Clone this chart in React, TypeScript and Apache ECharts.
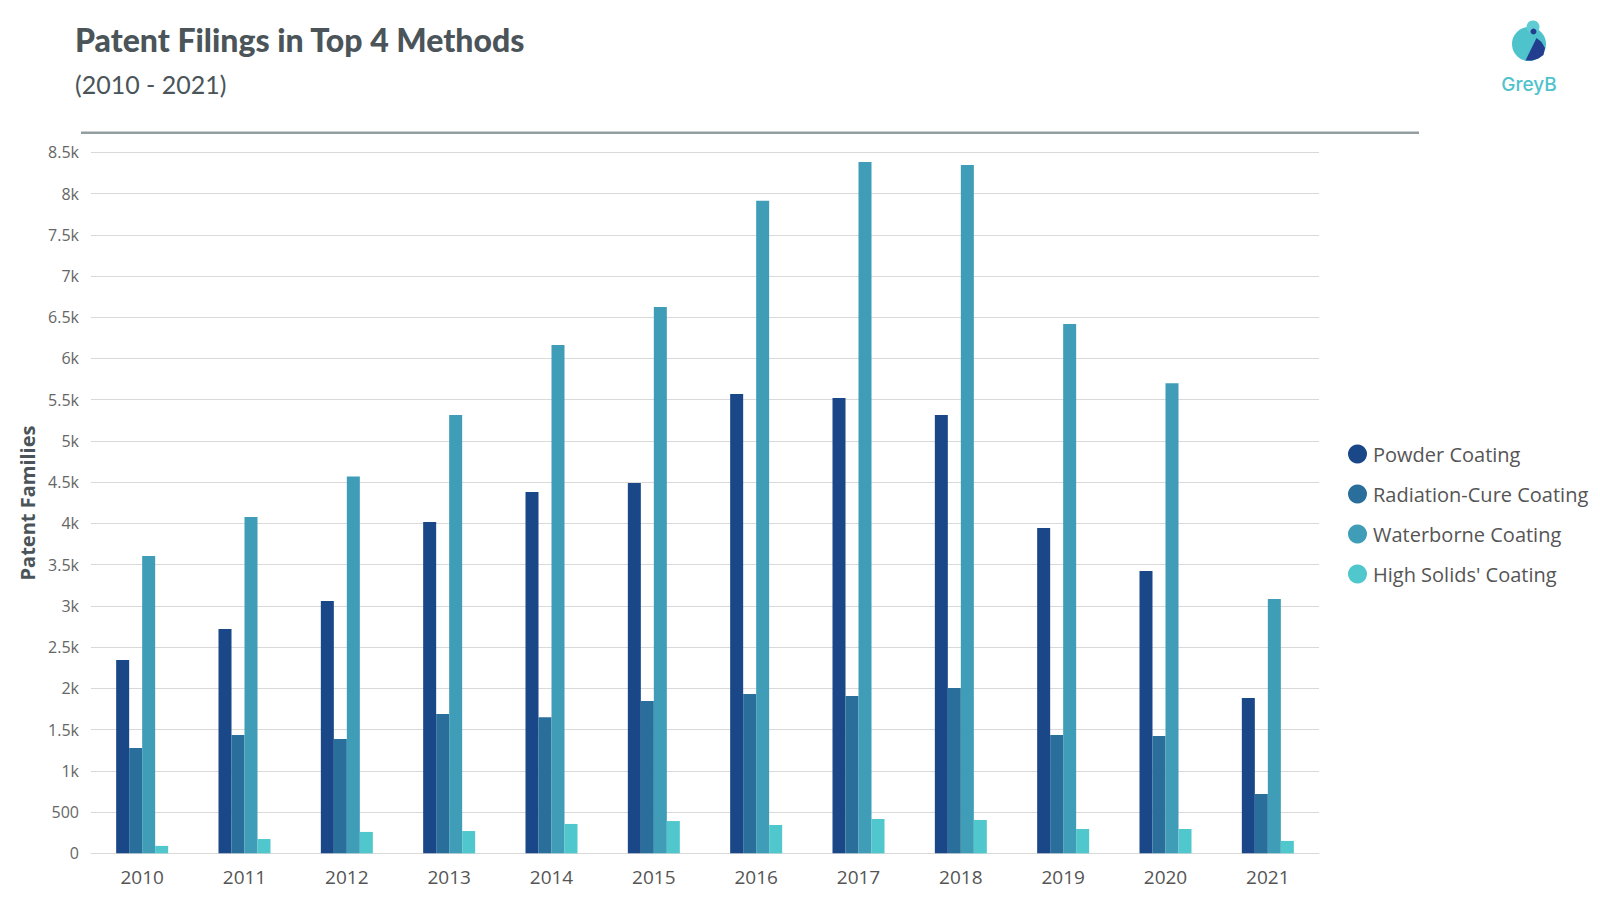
import React, { useEffect, useRef } from "react";
import * as echarts from "echarts";

const years = ["2010", "2011", "2012", "2013", "2014", "2015", "2016", "2017", "2018", "2019", "2020", "2021"];
const seriesNames = ["Powder Coating", "Radiation-Cure Coating", "Waterborne Coating", "High Solids' Coating"];
const powder = [2344, 2720, 3059, 4016, 4380, 4491, 5569, 5521, 5315, 3945, 3423, 1883];
const radiation = [1277, 1434, 1386, 1689, 1651, 1847, 1932, 1908, 2004, 1434, 1422, 719];
const waterborne = [3605, 4078, 4569, 5315, 6164, 6623, 7912, 8383, 8347, 6419, 5700, 3084];
const highSolids = [90, 173, 259, 270, 356, 391, 343, 416, 404, 295, 295, 150];
const colors = ["#194787", "#2a6f9b", "#3f9db8", "#4fc7cc"];

const TITLE = "Patent Filings in Top 4 Methods";
const SUBTITLE = "(2010 - 2021)";
const Y_NAME = "Patent Families";

export default function App() {
  const ref = useRef<HTMLDivElement>(null);
  useEffect(() => {
    document.body.style.margin = "0";
    const chart = echarts.init(ref.current!, null, { renderer: "svg" });
    const data = [powder, radiation, waterborne, highSolids];
    chart.setOption({
      animation: false,
      backgroundColor: "#ffffff",
      grid: { left: 91, right: 281, top: 152.3, bottom: 46.7, containLabel: false },
      legend: {
        orient: "vertical",
        left: 1343,
        top: 439,
        icon: "circle",
        itemWidth: 19,
        itemHeight: 19,
        itemGap: 20,
        textStyle: { fontFamily: "Open Sans", fontSize: 20, color: "#555555", padding: [0, 0, 0, 1] },
        data: seriesNames,
      },
      xAxis: {
        type: "category",
        data: years,
        axisLine: { show: true, lineStyle: { color: "#d9d9d9", width: 1 } },
        axisTick: { show: false },
        axisLabel: { fontFamily: "Open Sans", fontSize: 19, color: "#555555", margin: 14 },
      },
      yAxis: {
        type: "value",
        min: 0,
        max: 8500,
        interval: 500,
        axisLine: { show: false },
        axisTick: { show: false },
        splitLine: { lineStyle: { color: "#d9d9d9", width: 1 } },
        axisLabel: {
          fontFamily: "Open Sans",
          fontSize: 16,
          color: "#666666",
          margin: 12,
          formatter: (v: number) => (v >= 1000 ? v / 1000 + "k" : String(v)),
        },
      },
      series: seriesNames.map((name, i) => ({
        name,
        type: "bar",
        data: data[i],
        barWidth: 13,
        barGap: "0%",
        itemStyle: { color: colors[i] },
      })),
      graphic: [
        {
          type: "text",
          left: 75,
          top: 23,
          style: { text: TITLE, fontFamily: "Lato", fontWeight: 900, fontSize: 32, fill: "#4a5459" },
        },
        {
          type: "text",
          left: 75,
          top: 71,
          style: { text: SUBTITLE, fontFamily: "Lato", fontSize: 25, fill: "#4a5459" },
        },
        {
          type: "line",
          shape: { x1: 81, y1: 132.7, x2: 1419, y2: 132.7 },
          style: { stroke: "#939d9f", lineWidth: 2.5 },
        },
        {
          type: "text",
          x: 27,
          y: 503,
          rotation: Math.PI / 2,
          style: {
            text: Y_NAME,
            fontFamily: "Open Sans",
            fontWeight: "bold",
            fontSize: 20,
            fill: "#4a5459",
            align: "center",
            verticalAlign: "middle",
          },
        },
        {
          type: "group",
          children: [
            { type: "circle", shape: { cx: 1529, cy: 44, r: 17 }, style: { fill: "#4ec3cc" } },
            { type: "circle", shape: { cx: 1533, cy: 27, r: 6.5 }, style: { fill: "#5fccd4" } },
            {
              type: "polygon",
              shape: {
                points: [
                  [1536.5, 38],
                  [1541.5, 42],
                  [1545, 48],
                  [1543.5, 55],
                  [1538.5, 58.5],
                  [1532, 60.5],
                  [1525.5, 60.5],
                ],
              },
              style: { fill: "#233d8f" },
            },
            { type: "circle", shape: { cx: 1533.5, cy: 31.5, r: 3 }, style: { fill: "#233d8f" } },
            {
              type: "text",
              x: 1529,
              y: 84,
              style: {
                text: "GreyB",
                fontFamily: "Inter",
                fontWeight: 500,
                fontSize: 19,
                fill: "#4ec3cc",
                align: "center",
                verticalAlign: "middle",
              },
            },
          ],
        },
      ],
    });
    return () => chart.dispose();
  }, []);
  return <div ref={ref} style={{ position: "absolute", left: 0, top: 0, width: 1600, height: 900 }} />;
}
